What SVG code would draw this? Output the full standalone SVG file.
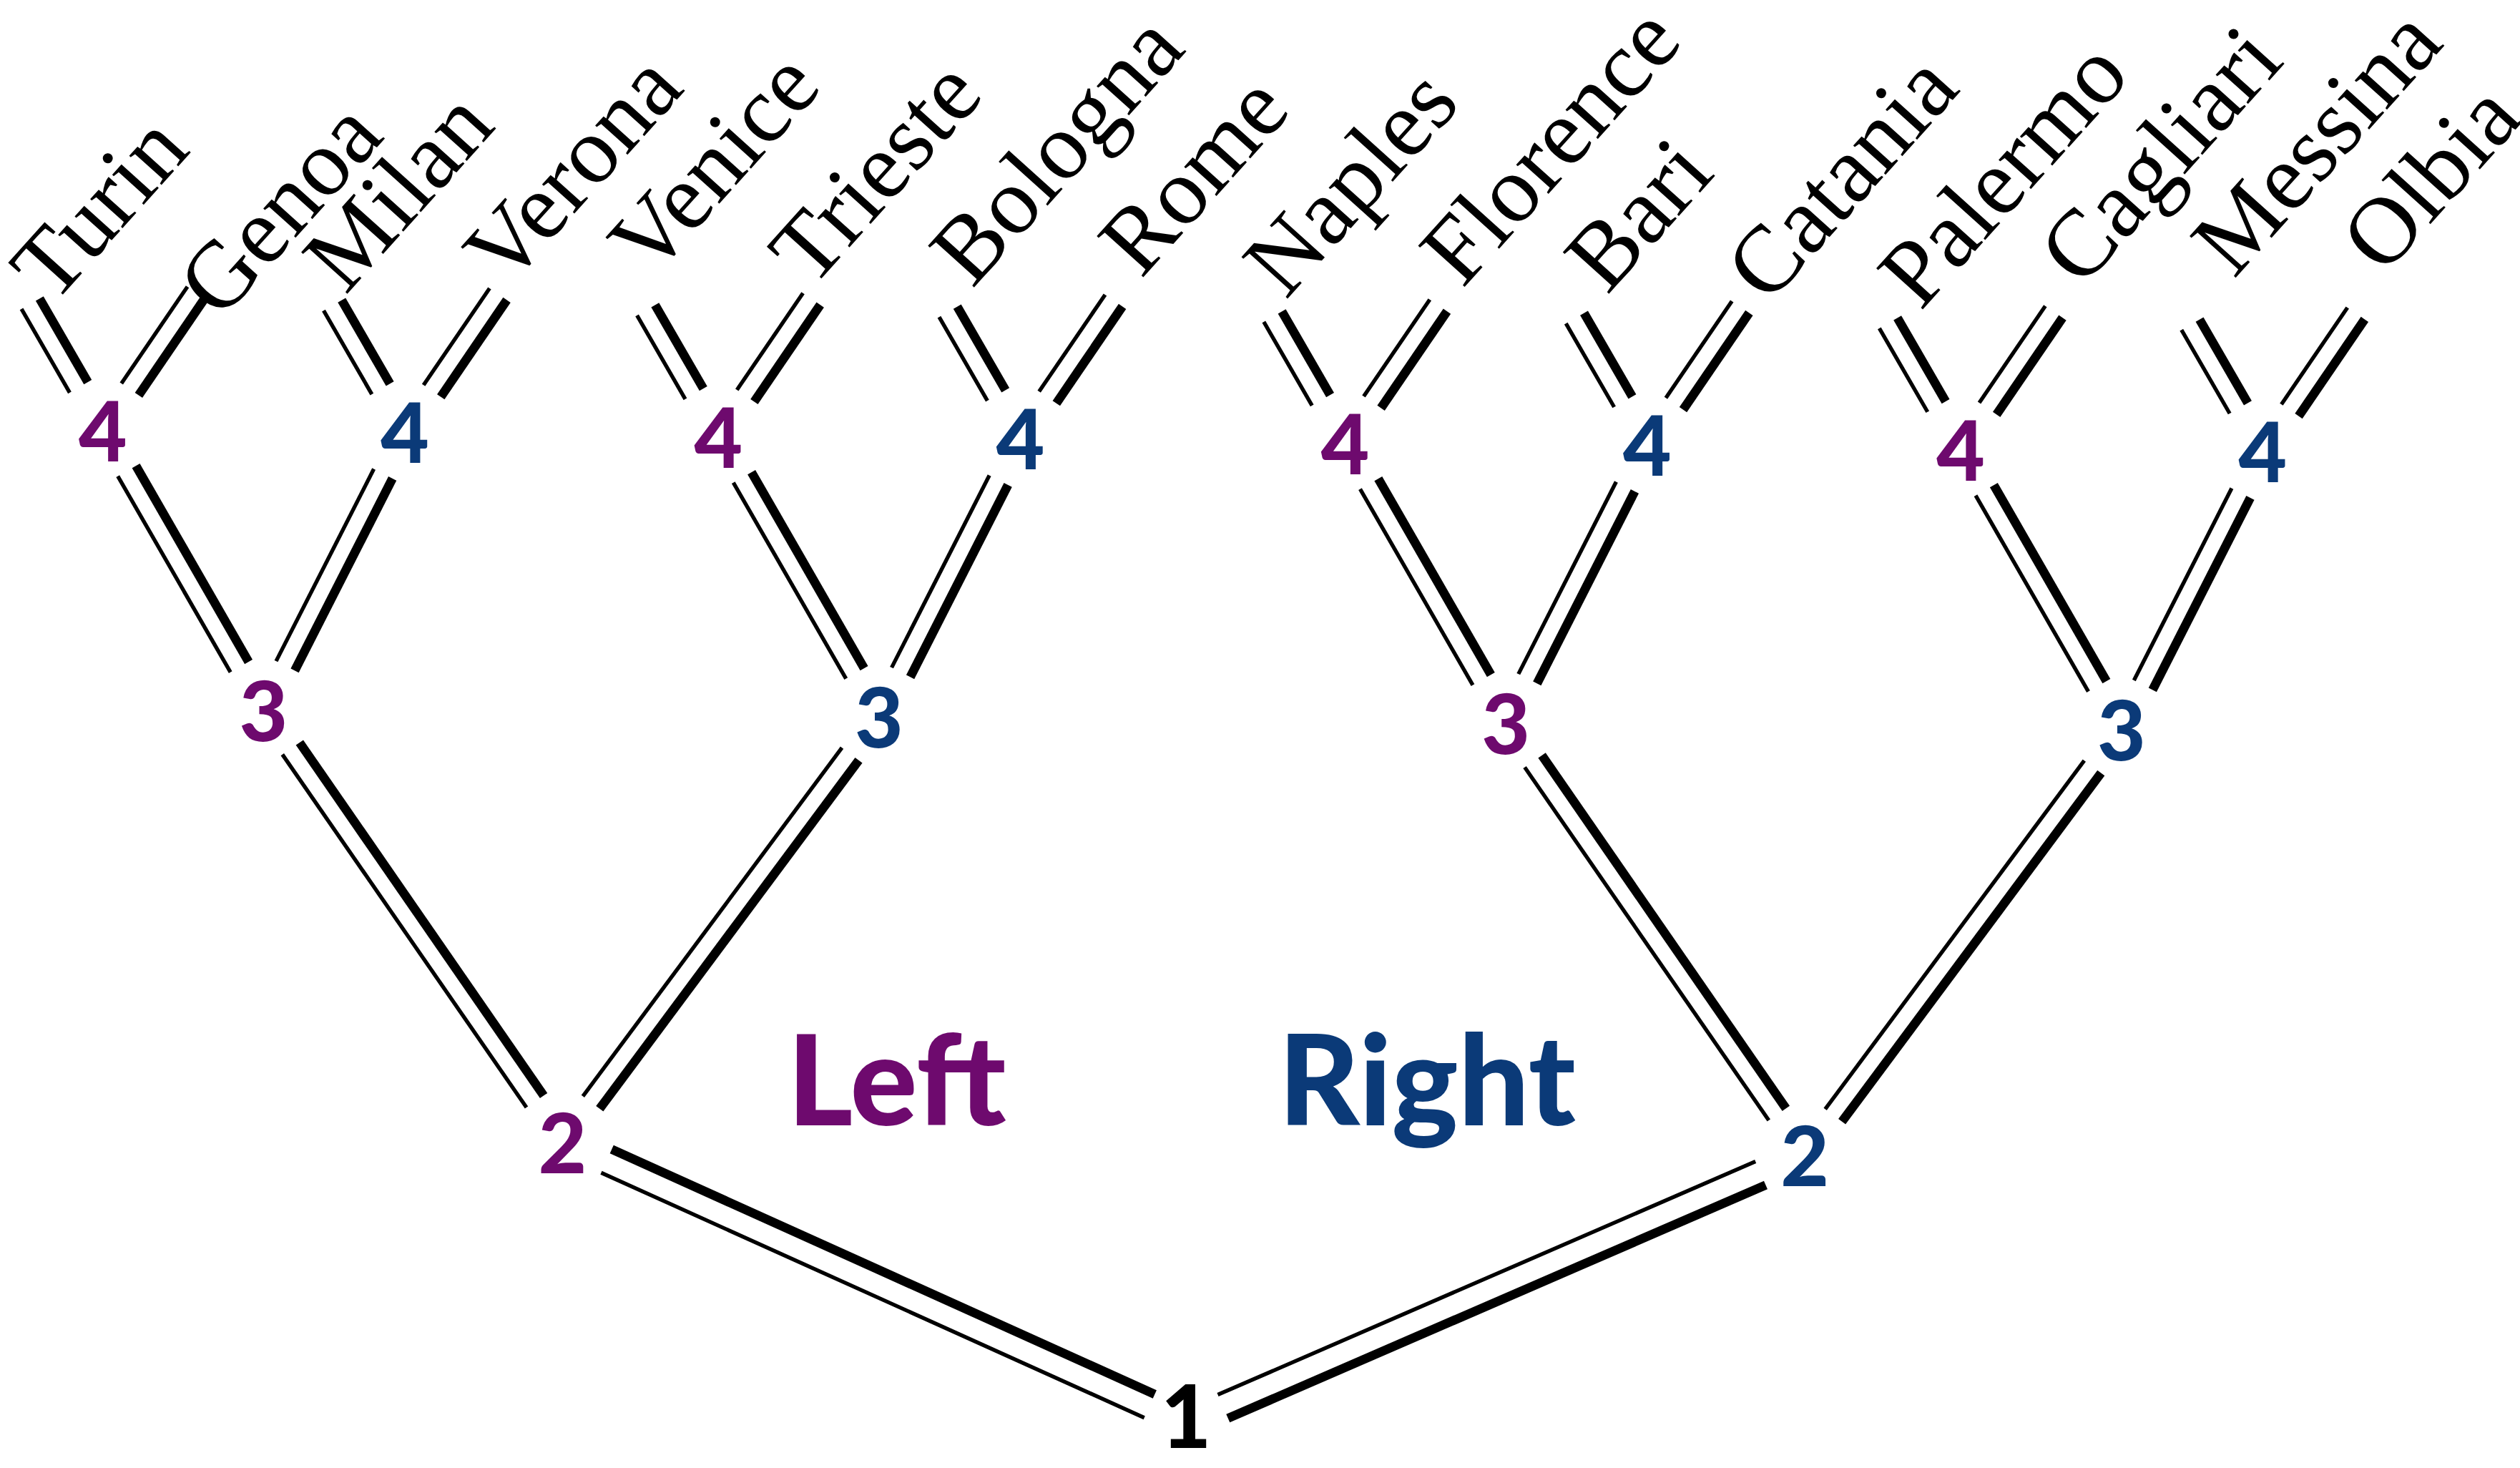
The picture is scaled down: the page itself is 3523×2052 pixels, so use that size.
<svg xmlns="http://www.w3.org/2000/svg" xmlns:xlink="http://www.w3.org/1999/xlink" width="3523" height="2052" viewBox="0 0 3523 2052">
<style>
.t{stroke:#000;stroke-width:2.4;fill:none}
.k{stroke:#000;stroke-width:5.6;fill:none}
.lbl{font-family:"Liberation Serif",serif;font-size:59px;fill:#000}
.n{font-family:Lato,"Open Sans",sans-serif;font-weight:900;font-size:52px;text-anchor:middle;dominant-baseline:central}
.p{fill:#6e0a6e}.b{fill:#0b3a78}.blk{fill:#000}
.big{font-family:Lato,"Open Sans",sans-serif;font-weight:900;font-size:78px;text-anchor:middle}
</style>
<defs>
<g id="ll"><line class="t" x1="-20.62" y1="-22.74" x2="-50.63" y2="-74.75"/><line class="k" x1="-9.36" y1="-29.24" x2="-39.37" y2="-81.25"/></g>
<g id="lr"><line class="t" x1="11.54" y1="-28.44" x2="52.63" y2="-88.66"/><line class="k" x1="22.28" y1="-21.12" x2="63.37" y2="-81.34"/></g>
<g id="e3l"><line class="t" x1="-20.59" y1="-22.77" x2="-90.69" y2="-144.75"/><line class="k" x1="-9.31" y1="-29.25" x2="-79.41" y2="-151.23"/></g>
<g id="e3r"><line class="t" x1="7.81" y1="-29.69" x2="68.61" y2="-149.21"/><line class="k" x1="19.39" y1="-23.79" x2="80.19" y2="-143.31"/></g>
<g id="e2l"><line class="t" x1="-22.41" y1="-20.98" x2="-174.29" y2="-240.62"/><line class="k" x1="-11.71" y1="-28.38" x2="-163.59" y2="-248.02"/></g>
<g id="e2r"><line class="t" x1="12.68" y1="-27.96" x2="173.88" y2="-244.8"/><line class="k" x1="23.12" y1="-20.2" x2="184.32" y2="-237.04"/></g>
</defs>
<rect width="3523" height="2052" fill="#fff"/>
<g transform="scale(2.2468)">
<g id="connectors">
<line class="t" x1="712" y1="882" x2="374.06" y2="729.63"/>
<line class="k" x1="718.5" y1="867.43" x2="380.64" y2="715.05"/>
<line class="t" x1="757.75" y1="867.71" x2="1092.3" y2="722.6"/>
<line class="k" x1="764.11" y1="882.39" x2="1098.66" y2="737.28"/>
<use xlink:href="#e2l" x="350" y="710"/><use xlink:href="#e2r" x="350" y="710"/>
<use xlink:href="#e2l" x="1123" y="718"/><use xlink:href="#e2r" x="1123" y="718"/>
<use xlink:href="#e3l" x="164" y="441"/><use xlink:href="#e3r" x="164" y="441"/>
<use xlink:href="#e3l" x="547" y="445"/><use xlink:href="#e3r" x="547" y="445"/>
<use xlink:href="#e3l" x="937" y="449"/><use xlink:href="#e3r" x="937" y="449"/>
<use xlink:href="#e3l" x="1320" y="453"/><use xlink:href="#e3r" x="1320" y="453"/>
<use xlink:href="#ll" x="64" y="267"/><use xlink:href="#lr" x="64" y="267"/>
<use xlink:href="#ll" x="252" y="268"/><use xlink:href="#lr" x="252" y="268"/>
<use xlink:href="#ll" x="447" y="271"/><use xlink:href="#lr" x="447" y="271"/>
<use xlink:href="#ll" x="635" y="272"/><use xlink:href="#lr" x="635" y="272"/>
<use xlink:href="#ll" x="837" y="275"/><use xlink:href="#lr" x="837" y="275"/>
<use xlink:href="#ll" x="1025" y="276"/><use xlink:href="#lr" x="1025" y="276"/>
<use xlink:href="#ll" x="1220" y="279"/><use xlink:href="#lr" x="1220" y="279"/>
<use xlink:href="#ll" x="1408" y="280"/><use xlink:href="#lr" x="1408" y="280"/>
</g>
<g id="n1"><text class="n blk" x="738" y="880" style="font-size:54px">1</text></g>
<g id="n2L"><text class="n p" x="350" y="710">2</text></g>
<g id="n2R"><text class="n b" x="1123" y="718">2</text></g>
<g id="n3a"><text class="n p" x="164" y="441">3</text></g>
<g id="n3b"><text class="n b" x="547" y="445">3</text></g>
<g id="n3c"><text class="n p" x="937" y="449">3</text></g>
<g id="n3d"><text class="n b" x="1320" y="453">3</text></g>
<g id="n4a"><text class="n p" x="64" y="267">4</text></g>
<g id="n4b"><text class="n b" x="252" y="268">4</text></g>
<g id="n4c"><text class="n p" x="447" y="271">4</text></g>
<g id="n4d"><text class="n b" x="635" y="272">4</text></g>
<g id="n4e"><text class="n p" x="837" y="275">4</text></g>
<g id="n4f"><text class="n b" x="1025" y="276">4</text></g>
<g id="n4g"><text class="n p" x="1220" y="279">4</text></g>
<g id="n4h"><text class="n b" x="1408" y="280">4</text></g>
<g id="sides">
<text class="big p" x="558" y="700">Left</text>
<text class="big b" x="888" y="700">Right</text>
</g>
<g id="leaves">
<text class="lbl" transform="translate(33,190) rotate(-48)">Turin</text>
<text class="lbl" transform="translate(137,200) rotate(-48)">Genoa</text>
<text class="lbl" transform="translate(215,184) rotate(-48)">Milan</text>
<text class="lbl" transform="translate(315,180) rotate(-48)">Verona</text>
<text class="lbl" transform="translate(405,174) rotate(-48)">Venice</text>
<text class="lbl" transform="translate(505,180) rotate(-48)">Trieste</text>
<text class="lbl" transform="translate(605,180) rotate(-48)">Bologna</text>
<text class="lbl" transform="translate(710,174) rotate(-48)">Rome</text>
<text class="lbl" transform="translate(800,187) rotate(-48)">Naples</text>
<text class="lbl" transform="translate(910,180) rotate(-48)">Florence</text>
<text class="lbl" transform="translate(1000,184) rotate(-48)">Bari</text>
<text class="lbl" transform="translate(1100,190) rotate(-48)">Catania</text>
<text class="lbl" transform="translate(1195,194) rotate(-48)">Palermo</text>
<text class="lbl" transform="translate(1295,180) rotate(-48)">Cagliari</text>
<text class="lbl" transform="translate(1390,174) rotate(-48)">Messina</text>
<text class="lbl" transform="translate(1483,172) rotate(-48)">Olbia</text>
</g>
</g>
</svg>
